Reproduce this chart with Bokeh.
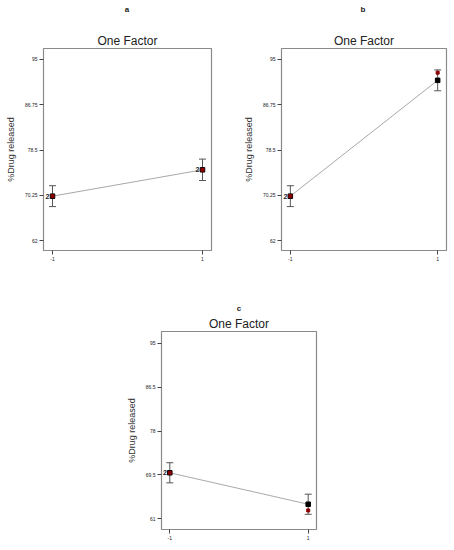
from bokeh.plotting import figure
from bokeh.layouts import column, row
from bokeh.models import Spacer, Title, Div, FixedTicker, Whisker, ColumnDataSource, Range1d, TeeHead
from bokeh.embed import file_html
from bokeh.resources import INLINE
from bokeh.core.properties import value

# ---- data ----
levels = [-1, 1]
x_tick_labels = ["-1", "1"]

ab_y_ticks = [62, 70.25, 78.5, 86.75, 95]
ab_y_labels = ["62", "70.25", "78.5", "86.75", "95"]
c_y_ticks = [61, 69.5, 78, 86.5, 95]
c_y_labels = ["61", "69.5", "78", "86.5", "95"]

a_pred = [70.1, 74.9]
a_err = [1.9, 1.95]
a_actual_x = [-1, 1]
a_actual_y = [70.1, 74.9]
a_actual_n = ["2", "2"]

b_pred = [70.1, 91.2]
b_err = [1.9, 1.9]
b_actual_x = [-1, 1]
b_actual_y = [70.1, 92.6]
b_actual_n = ["2", ""]

c_pred = [69.9, 63.8]
c_err = [1.95, 1.95]
c_actual_x = [-1, 1]
c_actual_y = [69.9, 62.6]
c_actual_n = ["2", ""]

FONT = "Liberation Sans"


def style_title(t, size, bold, standoff):
    t.align = "center"
    t.text_font = FONT
    t.text_font_size = size
    t.text_font_style = "bold" if bold else "normal"
    t.text_color = "#222222"
    t.standoff = standoff


def panel(letter, pred, err, ax, ay, an, yticks, ylabels, yr, w, h, bl, br, bt, bb):
    p = figure(width=w, height=h, output_backend="svg", toolbar_location=None,
               x_range=Range1d(-1.12, 1.12), y_range=Range1d(*yr),
               title=letter if letter else "One Factor",
               min_border_left=bl, min_border_right=br,
               min_border_top=bt, min_border_bottom=bb)
    if letter:
        style_title(p.title, "8px", True, 1)
        p.add_layout(Title(text="One Factor", align="center", text_font=FONT, text_font_size="12px",
                           text_font_style="normal", text_color="#222222", standoff=2), "above")
    else:
        style_title(p.title, "12px", False, 2)
    p.outline_line_color = "#8a8a8a"
    p.outline_line_width = 1.2
    p.xgrid.visible = False
    p.ygrid.visible = False
    for axis in (p.xaxis[0], p.yaxis[0]):
        axis.axis_line_color = None
        axis.major_tick_in = 0
        axis.major_tick_out = 4
        axis.minor_tick_line_color = None
        axis.major_tick_line_color = "#444444"
        axis.major_label_text_font = FONT
        axis.major_label_text_font_size = "5px"
        axis.major_label_text_color = "#222222"
        axis.major_label_standoff = 2
    p.xaxis.ticker = FixedTicker(ticks=levels)
    p.xaxis.major_label_overrides = dict(zip(levels, x_tick_labels))
    p.yaxis.ticker = FixedTicker(ticks=yticks)
    p.yaxis.major_label_overrides = dict(zip(yticks, ylabels))
    p.yaxis.axis_label = "%Drug released"
    p.yaxis.axis_label_text_font = FONT
    p.yaxis.axis_label_text_font_size = "9px"
    p.yaxis.axis_label_text_font_style = "normal"
    p.yaxis.axis_label_text_color = "#333333"
    p.yaxis.axis_label_standoff = 6

    src = ColumnDataSource(dict(x=levels, y=pred,
                                upper=[v + e for v, e in zip(pred, err)],
                                lower=[v - e for v, e in zip(pred, err)]))
    p.line("x", "y", source=src, line_color="#a8a8a8", line_width=1)
    wh = Whisker(base="x", upper="upper", lower="lower", source=src, dimension="height",
                 line_color="#555555", line_width=1,
                 upper_head=TeeHead(size=7, line_color="#555555", line_width=1),
                 lower_head=TeeHead(size=7, line_color="#555555", line_width=1))
    p.add_layout(wh)
    p.scatter("x", "y", source=src, marker="square", size=4.5, color="black")
    asrc = ColumnDataSource(dict(x=ax, y=ay, n=an))
    p.scatter("x", "y", source=asrc, marker="square", size=3, color="#8b0000")
    p.text("x", "y", text="n", source=asrc, x_offset=-3, text_align="right",
           text_baseline="middle", text_font=value(FONT), text_font_size="7px",
           text_font_style="bold", text_color="#222222")
    return p


def letter_div(t):
    return Div(text=t, width=40, height=20, margin=0,
               styles={"font-family": FONT, "font-size": "8px", "font-weight": "bold",
                       "text-align": "center", "line-height": "20px", "color": "#222222"})


pa = panel("", a_pred, a_err, a_actual_x, a_actual_y, a_actual_n, ab_y_ticks, ab_y_labels,
           (60.2, 97.0), 238, 246, 43, 27, 28, 16)
pb = panel("", b_pred, b_err, b_actual_x, b_actual_y, b_actual_n, ab_y_ticks, ab_y_labels,
           (60.2, 97.0), 214, 246, 43, 6, 28, 16)
pc = panel("c", c_pred, c_err, c_actual_x, c_actual_y, c_actual_n, c_y_ticks, c_y_labels,
           (58.9, 97.3), 208, 278, 43, 10, 65, 15)

letters = row(Spacer(width=107, height=20), letter_div("a"),
              Spacer(width=196, height=20), letter_div("b"))
layout = column(letters, row(pa, pb), row(Spacer(width=118, height=278), pc))
open("out.html", "w").write(file_html(layout, INLINE))
